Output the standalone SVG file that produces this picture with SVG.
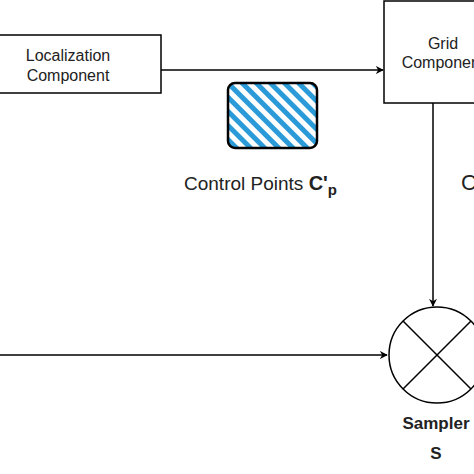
<svg xmlns="http://www.w3.org/2000/svg" width="474" height="474" viewBox="0 0 474 474">
<style>
.box{fill:#fff;stroke:#000;stroke-width:1.5}
.ln{fill:none;stroke:#000;stroke-width:1.5}
.t{font-family:"Liberation Sans",Arial,sans-serif;font-size:16px;fill:#222;text-anchor:middle}
.tb{font-family:"Liberation Sans",Arial,sans-serif;font-weight:bold;font-size:17px;fill:#222;text-anchor:middle}
</style>
<defs>
<marker id="ah" viewBox="0 0 10 10" refX="9" refY="5" markerWidth="8" markerHeight="8" orient="auto" markerUnits="userSpaceOnUse">
<path d="M0,0 L10,5 L0,10 L3,5 Z" fill="#000"/>
</marker>
<pattern id="hatch" width="10" height="10" patternUnits="userSpaceOnUse" patternTransform="rotate(-45)">
<rect x="0" y="0" width="10" height="10" fill="#fff"/>
<line x1="0" y1="0" x2="0" y2="10" stroke="#2a9ad8" stroke-width="10"/>
</pattern>
</defs>
<rect width="474" height="474" fill="#fff"/>
<g id="connectors">
<path class="ln" d="M161,70 L383,70" marker-end="url(#ah)"/>
<path class="ln" d="M433,103 L433,306" marker-end="url(#ah)"/>
<path class="ln" d="M0,355 L387,355" marker-end="url(#ah)"/>
</g>
<g id="localization">
<rect class="box" x="-25" y="35" width="186" height="58"/>
<text class="t" x="68" y="61">Localization</text>
<text class="t" x="68" y="81">Component</text>
</g>
<g id="grid">
<rect class="box" x="384" y="1" width="120" height="102"/>
<text class="t" x="443" y="49">Grid</text>
<text class="t" x="443" y="68">Component</text>
</g>
<g id="control-points">
<rect x="228" y="83" width="89" height="65" rx="7" fill="url(#hatch)" stroke="#000" stroke-width="2.5"/>
<text x="184" y="190" font-family="'Liberation Sans',Arial,sans-serif" font-size="19" fill="#222">Control Points <tspan font-weight="bold" font-size="20">C'</tspan><tspan font-weight="bold" font-size="15" dy="5">p</tspan></text>
<text x="461" y="190" font-family="'Liberation Sans',Arial,sans-serif" font-size="22" fill="#222">C</text>
</g>
<g id="sampler">
<circle cx="437" cy="355" r="48" fill="#fff" stroke="#000" stroke-width="1.5"/>
<path class="ln" d="M403,321 L471,389 M471,321 L403,389"/>
<text class="tb" x="436" y="429">Sampler</text>
<text class="tb" x="436" y="459">S</text>
</g>
</svg>
